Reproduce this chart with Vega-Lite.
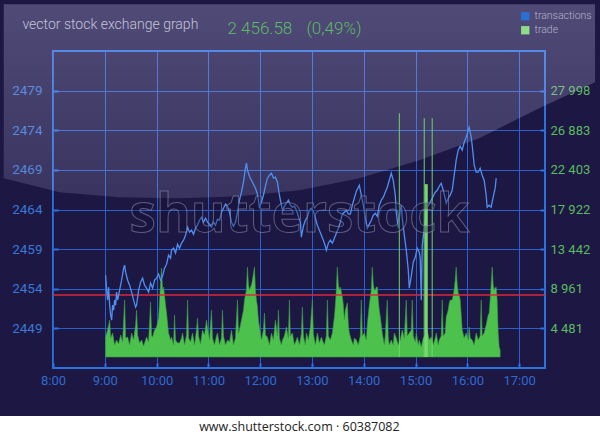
{
  "$schema": "https://vega.github.io/schema/vega-lite/v6.json",
  "width": 492,
  "height": 317,
  "autosize": {"type": "none"},
  "padding": {"left": 53, "top": 51, "right": 55, "bottom": 68},
  "background": "#1d1744",
  "config": {
    "view": {"stroke": "#2c72de", "strokeWidth": 2},
    "font": "Roboto",
    "axis": {"domain": false, "tickColor": "#2c72de", "tickWidth": 2, "tickSize": -5, "labelFont": "Roboto", "labelFontSize": 13, "gridColor": "#2b60cc", "gridWidth": 1, "gridOpacity": 1, "labelOverlap": false}
  },
  "datasets": {
    "swoosh": [
      {"t": 7.049, "top": 2489.89, "bottom": 2467.95},
      {"t": 8.129, "top": 2489.89, "bottom": 2466.18},
      {"t": 9.286, "top": 2489.89, "bottom": 2465.55},
      {"t": 10.443, "top": 2489.89, "bottom": 2465.42},
      {"t": 11.6, "top": 2489.89, "bottom": 2465.68},
      {"t": 12.758, "top": 2489.89, "bottom": 2466.43},
      {"t": 13.915, "top": 2489.89, "bottom": 2467.95},
      {"t": 15.072, "top": 2489.89, "bottom": 2470.22},
      {"t": 16.229, "top": 2489.89, "bottom": 2472.99},
      {"t": 17.386, "top": 2489.89, "bottom": 2476.77},
      {"t": 18.466, "top": 2489.89, "bottom": 2480.05}
    ],
    "price": [
      {"t": 9.016, "p": 2455.72}, {"t": 9.036, "p": 2453.82}, {"t": 9.055, "p": 2452.56}, {"t": 9.074, "p": 2454.2},
      {"t": 9.094, "p": 2451.93}, {"t": 9.113, "p": 2450.67}, {"t": 9.132, "p": 2450.04}, {"t": 9.151, "p": 2451.93},
      {"t": 9.171, "p": 2451.3}, {"t": 9.19, "p": 2452.56}, {"t": 9.209, "p": 2451.93}, {"t": 9.228, "p": 2453.57},
      {"t": 9.248, "p": 2452.56}, {"t": 9.267, "p": 2453.19}, {"t": 9.286, "p": 2453.82}, {"t": 9.325, "p": 2455.08},
      {"t": 9.364, "p": 2456.6}, {"t": 9.383, "p": 2456.98}, {"t": 9.402, "p": 2456.09}, {"t": 9.441, "p": 2455.08},
      {"t": 9.479, "p": 2454.45}, {"t": 9.518, "p": 2453.57}, {"t": 9.556, "p": 2452.56}, {"t": 9.595, "p": 2451.68},
      {"t": 9.614, "p": 2451.93}, {"t": 9.653, "p": 2453.82}, {"t": 9.691, "p": 2454.83}, {"t": 9.73, "p": 2455.34},
      {"t": 9.768, "p": 2454.45}, {"t": 9.807, "p": 2454.08}, {"t": 9.846, "p": 2453.57}, {"t": 9.884, "p": 2454.71},
      {"t": 9.923, "p": 2454.08}, {"t": 9.961, "p": 2455.08}, {"t": 10.0, "p": 2455.34}, {"t": 10.039, "p": 2455.84},
      {"t": 10.077, "p": 2455.08}, {"t": 10.116, "p": 2455.59}, {"t": 10.154, "p": 2456.6}, {"t": 10.193, "p": 2457.1},
      {"t": 10.231, "p": 2458.24}, {"t": 10.27, "p": 2457.86}, {"t": 10.289, "p": 2458.87}, {"t": 10.328, "p": 2459.12},
      {"t": 10.366, "p": 2458.49}, {"t": 10.405, "p": 2459.62}, {"t": 10.443, "p": 2459.12}, {"t": 10.482, "p": 2459.75},
      {"t": 10.521, "p": 2460.13}, {"t": 10.559, "p": 2460.76}, {"t": 10.598, "p": 2461.77}, {"t": 10.636, "p": 2461.14},
      {"t": 10.675, "p": 2461.39}, {"t": 10.713, "p": 2460.88}, {"t": 10.752, "p": 2461.64}, {"t": 10.79, "p": 2462.02},
      {"t": 10.829, "p": 2462.65}, {"t": 10.868, "p": 2463.03}, {"t": 10.906, "p": 2462.4}, {"t": 10.945, "p": 2462.9},
      {"t": 10.983, "p": 2462.4}, {"t": 11.022, "p": 2462.15}, {"t": 11.06, "p": 2461.77}, {"t": 11.099, "p": 2462.4},
      {"t": 11.138, "p": 2462.02}, {"t": 11.176, "p": 2462.78}, {"t": 11.215, "p": 2462.65}, {"t": 11.253, "p": 2463.66},
      {"t": 11.292, "p": 2464.16}, {"t": 11.33, "p": 2464.67}, {"t": 11.369, "p": 2464.42}, {"t": 11.408, "p": 2463.66},
      {"t": 11.446, "p": 2462.4}, {"t": 11.485, "p": 2461.89}, {"t": 11.523, "p": 2462.4}, {"t": 11.562, "p": 2463.66},
      {"t": 11.6, "p": 2465.17}, {"t": 11.639, "p": 2466.18}, {"t": 11.678, "p": 2467.44}, {"t": 11.716, "p": 2469.21},
      {"t": 11.735, "p": 2469.84}, {"t": 11.755, "p": 2468.96}, {"t": 11.793, "p": 2468.2}, {"t": 11.832, "p": 2467.69},
      {"t": 11.87, "p": 2467.19}, {"t": 11.909, "p": 2466.69}, {"t": 11.948, "p": 2465.93}, {"t": 11.986, "p": 2464.29},
      {"t": 12.025, "p": 2464.92}, {"t": 12.063, "p": 2465.8}, {"t": 12.102, "p": 2466.94}, {"t": 12.14, "p": 2467.95},
      {"t": 12.179, "p": 2468.33}, {"t": 12.218, "p": 2468.58}, {"t": 12.256, "p": 2467.95}, {"t": 12.295, "p": 2468.07},
      {"t": 12.333, "p": 2467.44}, {"t": 12.372, "p": 2465.8}, {"t": 12.41, "p": 2464.54}, {"t": 12.43, "p": 2463.91},
      {"t": 12.468, "p": 2464.42}, {"t": 12.507, "p": 2464.79}, {"t": 12.545, "p": 2465.17}, {"t": 12.584, "p": 2464.54},
      {"t": 12.623, "p": 2464.29}, {"t": 12.661, "p": 2464.42}, {"t": 12.7, "p": 2463.91}, {"t": 12.738, "p": 2463.15},
      {"t": 12.777, "p": 2462.4}, {"t": 12.796, "p": 2460.51}, {"t": 12.835, "p": 2461.89}, {"t": 12.873, "p": 2462.65},
      {"t": 12.912, "p": 2463.03}, {"t": 12.95, "p": 2463.91}, {"t": 12.989, "p": 2464.16}, {"t": 13.028, "p": 2463.79},
      {"t": 13.066, "p": 2462.9}, {"t": 13.105, "p": 2462.02}, {"t": 13.143, "p": 2461.39}, {"t": 13.182, "p": 2460.76},
      {"t": 13.22, "p": 2460.13}, {"t": 13.259, "p": 2459.37}, {"t": 13.278, "p": 2458.87}, {"t": 13.317, "p": 2459.75},
      {"t": 13.355, "p": 2460.13}, {"t": 13.394, "p": 2459.75}, {"t": 13.433, "p": 2460.38}, {"t": 13.471, "p": 2461.01},
      {"t": 13.51, "p": 2461.64}, {"t": 13.548, "p": 2462.4}, {"t": 13.587, "p": 2463.41}, {"t": 13.625, "p": 2463.66},
      {"t": 13.664, "p": 2463.91}, {"t": 13.703, "p": 2463.41}, {"t": 13.741, "p": 2463.41}, {"t": 13.78, "p": 2464.54},
      {"t": 13.818, "p": 2465.42}, {"t": 13.857, "p": 2466.31}, {"t": 13.895, "p": 2466.81}, {"t": 13.915, "p": 2467.06},
      {"t": 13.953, "p": 2465.8}, {"t": 13.992, "p": 2464.54}, {"t": 14.03, "p": 2462.9}, {"t": 14.069, "p": 2461.64},
      {"t": 14.108, "p": 2462.15}, {"t": 14.146, "p": 2462.65}, {"t": 14.185, "p": 2463.28}, {"t": 14.223, "p": 2463.53},
      {"t": 14.262, "p": 2463.15}, {"t": 14.3, "p": 2464.54}, {"t": 14.339, "p": 2465.17}, {"t": 14.378, "p": 2465.55},
      {"t": 14.416, "p": 2466.18}, {"t": 14.455, "p": 2466.81}, {"t": 14.493, "p": 2467.69}, {"t": 14.532, "p": 2468.58},
      {"t": 14.57, "p": 2467.69}, {"t": 14.609, "p": 2465.8}, {"t": 14.628, "p": 2463.66}, {"t": 14.667, "p": 2461.64},
      {"t": 14.705, "p": 2463.91}, {"t": 14.725, "p": 2464.54}, {"t": 14.744, "p": 2462.9}, {"t": 14.783, "p": 2460.76},
      {"t": 14.821, "p": 2458.87}, {"t": 14.86, "p": 2456.35}, {"t": 14.879, "p": 2454.08}, {"t": 14.918, "p": 2455.59},
      {"t": 14.956, "p": 2457.35}, {"t": 14.995, "p": 2457.98}, {"t": 15.033, "p": 2459.12}, {"t": 15.072, "p": 2458.61},
      {"t": 15.091, "p": 2457.86}, {"t": 15.111, "p": 2452.56}, {"t": 15.13, "p": 2459.5}, {"t": 15.168, "p": 2461.64},
      {"t": 15.207, "p": 2463.53}, {"t": 15.226, "p": 2464.29}, {"t": 15.265, "p": 2464.67}, {"t": 15.303, "p": 2465.17},
      {"t": 15.342, "p": 2465.68}, {"t": 15.381, "p": 2466.18}, {"t": 15.419, "p": 2466.43}, {"t": 15.458, "p": 2466.94},
      {"t": 15.496, "p": 2467.32}, {"t": 15.535, "p": 2466.43}, {"t": 15.573, "p": 2465.42}, {"t": 15.593, "p": 2464.79},
      {"t": 15.631, "p": 2465.42}, {"t": 15.67, "p": 2465.8}, {"t": 15.708, "p": 2466.43}, {"t": 15.747, "p": 2468.33},
      {"t": 15.785, "p": 2470.22}, {"t": 15.824, "p": 2471.48}, {"t": 15.863, "p": 2471.98}, {"t": 15.901, "p": 2471.48},
      {"t": 15.94, "p": 2472.49}, {"t": 15.978, "p": 2473.12}, {"t": 16.017, "p": 2474.0}, {"t": 16.036, "p": 2474.38},
      {"t": 16.075, "p": 2473.12}, {"t": 16.094, "p": 2472.11}, {"t": 16.133, "p": 2469.59}, {"t": 16.171, "p": 2468.71},
      {"t": 16.21, "p": 2468.71}, {"t": 16.248, "p": 2469.21}, {"t": 16.287, "p": 2468.33}, {"t": 16.325, "p": 2467.69},
      {"t": 16.364, "p": 2465.8}, {"t": 16.383, "p": 2464.29}, {"t": 16.422, "p": 2464.54}, {"t": 16.46, "p": 2464.29},
      {"t": 16.499, "p": 2465.55}, {"t": 16.538, "p": 2466.69}, {"t": 16.557, "p": 2467.95}
    ],
    "volume": [
      {"t": 9.016, "v": 3500}, {"t": 9.055, "v": 4290}, {"t": 9.094, "v": 5420}, {"t": 9.113, "v": 3390},
      {"t": 9.151, "v": 3950}, {"t": 9.19, "v": 2600}, {"t": 9.228, "v": 3160}, {"t": 9.267, "v": 2710},
      {"t": 9.306, "v": 3730}, {"t": 9.344, "v": 2940}, {"t": 9.383, "v": 7680}, {"t": 9.402, "v": 3390},
      {"t": 9.441, "v": 3500}, {"t": 9.479, "v": 2600}, {"t": 9.518, "v": 3950}, {"t": 9.556, "v": 3160},
      {"t": 9.595, "v": 4860}, {"t": 9.614, "v": 6550}, {"t": 9.634, "v": 3730}, {"t": 9.672, "v": 2820},
      {"t": 9.711, "v": 3160}, {"t": 9.75, "v": 2490}, {"t": 9.807, "v": 3500}, {"t": 9.846, "v": 2940},
      {"t": 9.884, "v": 7460}, {"t": 9.904, "v": 3620}, {"t": 9.923, "v": 3500}, {"t": 9.961, "v": 4290},
      {"t": 10.0, "v": 4630}, {"t": 10.039, "v": 5650}, {"t": 10.058, "v": 7680}, {"t": 10.096, "v": 11300},
      {"t": 10.116, "v": 8810}, {"t": 10.135, "v": 9150}, {"t": 10.154, "v": 8130}, {"t": 10.174, "v": 7120},
      {"t": 10.193, "v": 6210}, {"t": 10.231, "v": 3950}, {"t": 10.27, "v": 3160}, {"t": 10.289, "v": 3500},
      {"t": 10.328, "v": 2600}, {"t": 10.347, "v": 5990}, {"t": 10.366, "v": 3160}, {"t": 10.405, "v": 2820},
      {"t": 10.443, "v": 2820}, {"t": 10.482, "v": 3390}, {"t": 10.501, "v": 3950}, {"t": 10.54, "v": 2600},
      {"t": 10.578, "v": 3730}, {"t": 10.598, "v": 7680}, {"t": 10.617, "v": 3390}, {"t": 10.656, "v": 2940},
      {"t": 10.694, "v": 3950}, {"t": 10.733, "v": 2600}, {"t": 10.771, "v": 4290}, {"t": 10.79, "v": 5650},
      {"t": 10.81, "v": 3620}, {"t": 10.848, "v": 2710}, {"t": 10.887, "v": 4290}, {"t": 10.926, "v": 3730},
      {"t": 10.964, "v": 5420}, {"t": 10.983, "v": 4520}, {"t": 11.022, "v": 3160}, {"t": 11.06, "v": 6550},
      {"t": 11.08, "v": 3390}, {"t": 11.118, "v": 2600}, {"t": 11.157, "v": 3620}, {"t": 11.176, "v": 3950},
      {"t": 11.215, "v": 2600}, {"t": 11.253, "v": 3390}, {"t": 11.273, "v": 6550}, {"t": 11.292, "v": 3620},
      {"t": 11.33, "v": 2600}, {"t": 11.369, "v": 3160}, {"t": 11.408, "v": 2940}, {"t": 11.446, "v": 4290},
      {"t": 11.485, "v": 2600}, {"t": 11.523, "v": 3390}, {"t": 11.562, "v": 7680}, {"t": 11.581, "v": 3950},
      {"t": 11.6, "v": 4290}, {"t": 11.639, "v": 5420}, {"t": 11.678, "v": 6550}, {"t": 11.697, "v": 7680},
      {"t": 11.735, "v": 8810}, {"t": 11.755, "v": 11410}, {"t": 11.774, "v": 9380}, {"t": 11.793, "v": 8810},
      {"t": 11.813, "v": 9150}, {"t": 11.832, "v": 9380}, {"t": 11.851, "v": 9940}, {"t": 11.89, "v": 11410},
      {"t": 11.909, "v": 8810}, {"t": 11.928, "v": 7680}, {"t": 11.948, "v": 6890}, {"t": 11.967, "v": 5420},
      {"t": 11.986, "v": 4630}, {"t": 12.025, "v": 3160}, {"t": 12.063, "v": 4290}, {"t": 12.083, "v": 6210},
      {"t": 12.102, "v": 3730}, {"t": 12.14, "v": 3500}, {"t": 12.179, "v": 2600}, {"t": 12.218, "v": 3950},
      {"t": 12.256, "v": 3160}, {"t": 12.295, "v": 5420}, {"t": 12.333, "v": 3620}, {"t": 12.353, "v": 6550},
      {"t": 12.372, "v": 3390}, {"t": 12.41, "v": 2600}, {"t": 12.43, "v": 3160}, {"t": 12.468, "v": 3620},
      {"t": 12.507, "v": 4630}, {"t": 12.545, "v": 3390}, {"t": 12.565, "v": 7680}, {"t": 12.584, "v": 3620},
      {"t": 12.623, "v": 3950}, {"t": 12.661, "v": 2600}, {"t": 12.7, "v": 3160}, {"t": 12.719, "v": 3500},
      {"t": 12.758, "v": 2600}, {"t": 12.796, "v": 3840}, {"t": 12.815, "v": 6890}, {"t": 12.835, "v": 3620},
      {"t": 12.873, "v": 2600}, {"t": 12.893, "v": 3950}, {"t": 12.931, "v": 3160}, {"t": 12.97, "v": 4630},
      {"t": 13.008, "v": 7680}, {"t": 13.028, "v": 3840}, {"t": 13.066, "v": 2600}, {"t": 13.105, "v": 3950},
      {"t": 13.143, "v": 2820}, {"t": 13.182, "v": 3500}, {"t": 13.201, "v": 3160}, {"t": 13.24, "v": 2600},
      {"t": 13.278, "v": 3620}, {"t": 13.298, "v": 7680}, {"t": 13.317, "v": 3620}, {"t": 13.355, "v": 3160},
      {"t": 13.394, "v": 3950}, {"t": 13.433, "v": 5760}, {"t": 13.452, "v": 7120}, {"t": 13.471, "v": 8810},
      {"t": 13.49, "v": 11410}, {"t": 13.51, "v": 9380}, {"t": 13.529, "v": 8810}, {"t": 13.548, "v": 9150},
      {"t": 13.568, "v": 8590}, {"t": 13.587, "v": 8020}, {"t": 13.606, "v": 7120}, {"t": 13.625, "v": 5420},
      {"t": 13.645, "v": 6550}, {"t": 13.683, "v": 7340}, {"t": 13.703, "v": 4860}, {"t": 13.722, "v": 3950},
      {"t": 13.76, "v": 3160}, {"t": 13.799, "v": 2600}, {"t": 13.818, "v": 3390}, {"t": 13.857, "v": 3160},
      {"t": 13.895, "v": 2600}, {"t": 13.934, "v": 3620}, {"t": 13.953, "v": 7680}, {"t": 13.973, "v": 3620},
      {"t": 14.011, "v": 3950}, {"t": 14.05, "v": 3160}, {"t": 14.069, "v": 4860}, {"t": 14.088, "v": 5990},
      {"t": 14.108, "v": 7120}, {"t": 14.146, "v": 8810}, {"t": 14.165, "v": 11410}, {"t": 14.185, "v": 9380},
      {"t": 14.204, "v": 8810}, {"t": 14.223, "v": 8810}, {"t": 14.243, "v": 9150}, {"t": 14.262, "v": 9150},
      {"t": 14.281, "v": 7680}, {"t": 14.3, "v": 6550}, {"t": 14.32, "v": 5760}, {"t": 14.339, "v": 4860},
      {"t": 14.358, "v": 3950}, {"t": 14.397, "v": 2600}, {"t": 14.416, "v": 3620}, {"t": 14.455, "v": 7680},
      {"t": 14.474, "v": 3390}, {"t": 14.493, "v": 2600}, {"t": 14.532, "v": 3160}, {"t": 14.57, "v": 2600},
      {"t": 14.59, "v": 3950}, {"t": 14.628, "v": 3390}, {"t": 14.667, "v": 2600}, {"t": 14.705, "v": 3160},
      {"t": 14.744, "v": 4290}, {"t": 14.783, "v": 3390}, {"t": 14.821, "v": 7680}, {"t": 14.841, "v": 3620},
      {"t": 14.879, "v": 3950}, {"t": 14.918, "v": 4290}, {"t": 14.937, "v": 7680}, {"t": 14.956, "v": 3620},
      {"t": 14.995, "v": 2940}, {"t": 15.014, "v": 3950}, {"t": 15.053, "v": 2600}, {"t": 15.072, "v": 3160},
      {"t": 15.111, "v": 2370}, {"t": 15.149, "v": 3390}, {"t": 15.188, "v": 3730}, {"t": 15.226, "v": 4290},
      {"t": 15.265, "v": 3160}, {"t": 15.303, "v": 3500}, {"t": 15.342, "v": 2600}, {"t": 15.381, "v": 3390},
      {"t": 15.4, "v": 3950}, {"t": 15.438, "v": 2600}, {"t": 15.458, "v": 3160}, {"t": 15.496, "v": 3620},
      {"t": 15.516, "v": 7680}, {"t": 15.535, "v": 3620}, {"t": 15.573, "v": 3950}, {"t": 15.593, "v": 5760},
      {"t": 15.631, "v": 6550}, {"t": 15.651, "v": 7340}, {"t": 15.67, "v": 7680}, {"t": 15.708, "v": 7680},
      {"t": 15.747, "v": 8810}, {"t": 15.766, "v": 9940}, {"t": 15.785, "v": 11410}, {"t": 15.805, "v": 9380},
      {"t": 15.824, "v": 8470}, {"t": 15.843, "v": 8250}, {"t": 15.863, "v": 7680}, {"t": 15.882, "v": 5990},
      {"t": 15.901, "v": 4290}, {"t": 15.94, "v": 3390}, {"t": 15.978, "v": 3950}, {"t": 16.017, "v": 3160},
      {"t": 16.036, "v": 4630}, {"t": 16.056, "v": 3390}, {"t": 16.094, "v": 3160}, {"t": 16.133, "v": 2600},
      {"t": 16.171, "v": 3950}, {"t": 16.21, "v": 3160}, {"t": 16.248, "v": 3620}, {"t": 16.268, "v": 7680},
      {"t": 16.287, "v": 3620}, {"t": 16.325, "v": 3950}, {"t": 16.364, "v": 4860}, {"t": 16.383, "v": 5420},
      {"t": 16.403, "v": 5990}, {"t": 16.422, "v": 6210}, {"t": 16.441, "v": 7680}, {"t": 16.46, "v": 9380},
      {"t": 16.48, "v": 11410}, {"t": 16.499, "v": 9380}, {"t": 16.518, "v": 8810}, {"t": 16.538, "v": 9040},
      {"t": 16.557, "v": 9150}, {"t": 16.576, "v": 7680}, {"t": 16.596, "v": 3950}, {"t": 16.615, "v": 2370},
      {"t": 16.634, "v": 2030}
    ],
    "spikes": [
      {"t": 14.687, "v": 28807},
      {"t": 15.168, "v": 28243},
      {"t": 15.322, "v": 28243}
    ],
    "block": [
      {"t": 15.207, "v": 20786}
    ],
    "reference": [
      {"level": 2453.2}
    ],
    "series": [
      {"series": "transactions"},
      {"series": "trade"}
    ]
  },
  "layer": [
    {
      "data": {"name": "swoosh"},
      "mark": {"type": "area", "clip": false, "color": {"gradient": "linear", "x1": 0, "y1": 0, "x2": 0, "y2": 1, "stops": [{"offset": 0, "color": "rgba(215,212,255,0.27)"}, {"offset": 1, "color": "rgba(215,212,255,0.15)"}]}},
      "encoding": {
        "x": {"field": "t", "type": "quantitative", "title": null, "scale": {"domain": [8, 17.5], "nice": false, "zero": false},
          "axis": {"values": [8, 8.5, 9, 9.5, 10, 10.5, 11, 11.5, 12, 12.5, 13, 13.5, 14, 14.5, 15, 15.5, 16, 16.5, 17, 17.5], "labelExpr": "datum.value % 1 === 0 ? floor(datum.value) + ':00' : ''", "grid": true, "labelColor": "#2f6bcc", "labelPadding": 11, "labelFlush": false, "title": null}},
        "y": {"field": "top", "type": "quantitative", "title": null, "scale": {"domain": [2444, 2484], "nice": false, "zero": false},
          "axis": {"orient": "left", "values": [2449, 2454, 2459, 2464, 2469, 2474, 2479], "format": "d", "grid": true, "labelColor": "#3a78d4", "labelFontSize": 13.5, "labelPadding": 16, "title": null}},
        "y2": {"field": "bottom"}
      }
    },
    {
      "data": {"name": "volume"},
      "mark": {"type": "area", "color": "#4cc24d", "stroke": "#3a9a40", "strokeWidth": 0.6, "interpolate": "linear"},
      "encoding": {
        "x": {"field": "t", "type": "quantitative", "title": null, "scale": {"domain": [8, 17.5], "nice": false, "zero": false}},
        "y": {"field": "v", "type": "quantitative", "title": null, "scale": {"domain": [0, 35844], "nice": false, "zero": false},
          "axis": {"orient": "right", "values": [4480.5, 8961, 13441.5, 17922, 22402.5, 26883, 31363.5], "labelExpr": "datum.value > 30000 ? '27 998' : replace(format(datum.value, ',.0f'), ',', ' ')", "grid": false, "labelColor": "#5cbb5f", "labelPadding": 10, "title": null}},
        "y2": {"datum": 1243}
      }
    },
    {
      "data": {"name": "reference"},
      "mark": {"type": "rule", "color": "#d8293b", "strokeWidth": 1.5},
      "encoding": {
        "y": {"field": "level", "type": "quantitative", "title": null, "scale": {"domain": [2444, 2484], "nice": false, "zero": false}, "axis": null}
      }
    },
    {
      "data": {"name": "price"},
      "mark": {"type": "line", "color": "#4f8ff0", "strokeWidth": 1.3},
      "encoding": {
        "x": {"field": "t", "type": "quantitative", "title": null, "scale": {"domain": [8, 17.5], "nice": false, "zero": false}},
        "y": {"field": "p", "type": "quantitative", "title": null, "scale": {"domain": [2444, 2484], "nice": false, "zero": false}, "axis": null}
      }
    },
    {
      "data": {"name": "spikes"},
      "mark": {"type": "rule", "color": "#6fd46c", "strokeWidth": 1},
      "encoding": {
        "x": {"field": "t", "type": "quantitative", "title": null, "scale": {"domain": [8, 17.5], "nice": false, "zero": false}},
        "y": {"field": "v", "type": "quantitative", "title": null, "scale": {"domain": [0, 35844], "nice": false, "zero": false}, "axis": null},
        "y2": {"datum": 1243}
      }
    },
    {
      "data": {"name": "block"},
      "mark": {"type": "rule", "color": "#76d86c", "strokeWidth": 3},
      "encoding": {
        "x": {"field": "t", "type": "quantitative", "title": null, "scale": {"domain": [8, 17.5], "nice": false, "zero": false}},
        "y": {"field": "v", "type": "quantitative", "title": null, "scale": {"domain": [0, 35844], "nice": false, "zero": false}, "axis": null},
        "y2": {"datum": 1243}
      }
    },
    {
      "data": {"values": [{}]},
      "layer": [
        {
          "mark": {"type": "text", "clip": false, "align": "left", "baseline": "alphabetic", "font": "Roboto", "fontWeight": 300, "fontSize": 14, "color": "#c5c3d9"},
          "encoding": {
            "x": {"datum": 7.41, "type": "quantitative", "scale": {"domain": [8, 17.5], "nice": false, "zero": false}},
            "y": {"datum": 2486.8, "type": "quantitative", "scale": {"domain": [2444, 2484], "nice": false, "zero": false}, "axis": null},
            "text": {"value": "vector stock exchange graph"}
          }
        },
        {
          "mark": {"type": "text", "clip": false, "align": "left", "baseline": "alphabetic", "font": "Roboto", "fontWeight": 300, "fontSize": 17, "color": "#5dbb65"},
          "encoding": {
            "x": {"datum": 11.369, "type": "quantitative"},
            "y": {"datum": 2486.1, "type": "quantitative"},
            "text": {"value": "2 456.58"}
          }
        },
        {
          "mark": {"type": "text", "clip": false, "align": "left", "baseline": "alphabetic", "font": "Roboto", "fontWeight": 300, "fontSize": 17, "color": "#5dbb65"},
          "encoding": {
            "x": {"datum": 12.893, "type": "quantitative"},
            "y": {"datum": 2486.1, "type": "quantitative"},
            "text": {"value": "(0,49%)"}
          }
        },
        {
          "mark": {"type": "rect", "clip": false, "color": "#ffffff"},
          "encoding": {
            "x": {"datum": 6.9, "type": "quantitative"},
            "x2": {"datum": 18.6},
            "y": {"datum": 2437.93, "type": "quantitative"},
            "y2": {"datum": 2434.0}
          }
        },
        {
          "mark": {"type": "text", "clip": false, "align": "center", "baseline": "alphabetic", "font": "Open Sans", "fontSize": 12.5, "color": "#222222"},
          "encoding": {
            "x": {"datum": 12.758, "type": "quantitative"},
            "y": {"datum": 2436.04, "type": "quantitative"},
            "text": {"value": "www.shutterstock.com · 60387082"}
          }
        },
        {
          "mark": {"type": "text", "clip": false, "align": "center", "baseline": "alphabetic", "font": "Open Sans", "fontWeight": "bold", "fontSize": 53, "fill": "#120e30", "fillOpacity": 0.3, "stroke": "#8d8aab", "strokeWidth": 1, "strokeOpacity": 0.6},
          "encoding": {
            "x": {"datum": 12.758, "type": "quantitative"},
            "y": {"datum": 2461.14, "type": "quantitative"},
            "text": {"value": "shutterstock"}
          }
        }
      ]
    },
    {
      "data": {"name": "series"},
      "mark": {"type": "square", "opacity": 0},
      "encoding": {
        "color": {"field": "series", "type": "nominal", "scale": {"domain": ["transactions", "trade"], "range": ["#2a6fd4", "#8fdc89"]},
          "legend": {"orient": "none", "legendX": 467, "legendY": -40, "title": null, "symbolType": "square", "symbolSize": 70, "symbolOpacity": 1, "symbolStrokeWidth": 0, "labelColor": "#b6b3cc", "labelFont": "Roboto", "labelFontWeight": 300, "labelFontSize": 10.5, "rowPadding": 3, "labelOffset": 4, "padding": 0}}
      }
    }
  ],
  "resolve": {"scale": {"y": "independent"}}
}
